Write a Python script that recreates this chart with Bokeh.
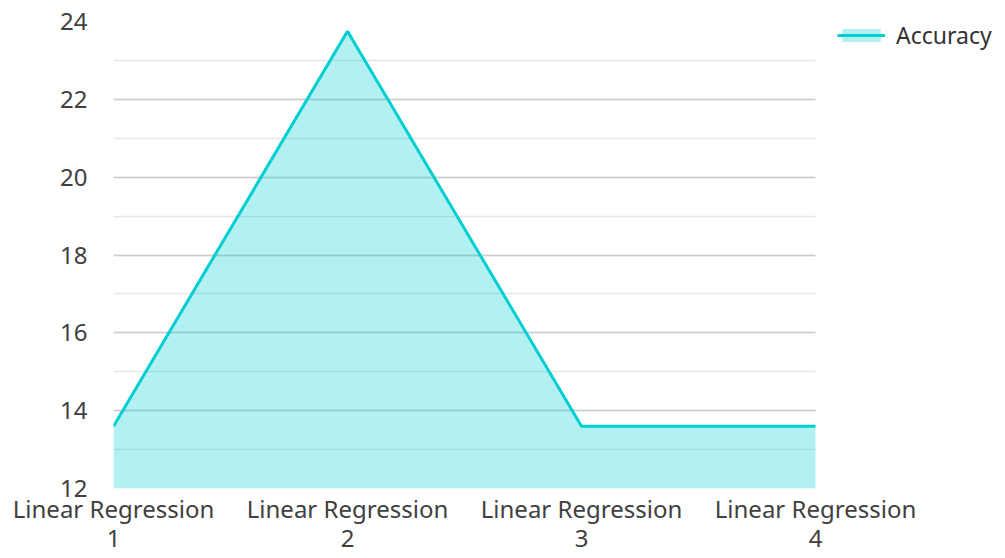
from bokeh.plotting import figure
from bokeh.models import Range1d, Legend, LegendItem, FixedTicker, ColumnDataSource, BoxAnnotation
from bokeh.embed import file_html
from bokeh.resources import INLINE

categories = ["Linear Regression\n1", "Linear Regression\n2", "Linear Regression\n3", "Linear Regression\n4"]
accuracy = [13.6, 23.75, 13.6, 13.6]
y_ticks = [12, 14, 16, 18, 20, 22, 24]

xs = list(range(1, len(categories) + 1))
src = ColumnDataSource(dict(x=xs, y=accuracy, base=[12] * len(xs)))

FONT = "Noto Sans"
# plot area runs from category 1 to category 4; extra room on the right holds the legend
x_end = len(xs) + 190 / 234
p = figure(width=1005, height=558, output_backend="svg", toolbar_location=None,
           x_range=Range1d(1, x_end), y_range=Range1d(12, 24),
           min_border_left=113, min_border_top=21, min_border_bottom=70, min_border_right=0)
p.outline_line_color = None

area = p.varea(x="x", y1="base", y2="y", source=src, fill_color="#00CED1", fill_alpha=0.3)
line = p.line(x="x", y="y", source=src, line_color="#00CED1", line_width=3)

p.xaxis.ticker = FixedTicker(ticks=xs)
p.xaxis.major_label_overrides = {x: c for x, c in zip(xs, categories)}
p.yaxis.ticker = FixedTicker(ticks=y_ticks, minor_ticks=list(range(12, 25)))

for ax in (p.xaxis, p.yaxis):
    ax.axis_line_color = None
    ax.major_tick_line_color = None
    ax.minor_tick_line_color = None
    ax.major_tick_out = 0
    ax.major_label_text_font = FONT
    ax.major_label_text_font_size = "24px"
    ax.major_label_text_color = "#404040"
p.yaxis.major_label_standoff = 22
p.xaxis.major_label_standoff = 3
p.xaxis.major_label_text_line_height = 0.9

p.xgrid.grid_line_color = None
p.ygrid.grid_line_color = "#cccccc"
p.ygrid.grid_line_width = 1.5
p.ygrid.minor_grid_line_color = "#e6e6e6"
p.ygrid.minor_grid_line_width = 1.5

# grid lines stop at the last category
p.add_layout(BoxAnnotation(left=xs[-1], fill_color="white", fill_alpha=1,
                           line_alpha=0, level="underlay"))

legend = Legend(items=[LegendItem(label="Accuracy", renderers=[area, line])],
                location=(724, 437), border_line_color=None, background_fill_alpha=0,
                label_text_font=FONT, label_text_font_size="23px", label_text_color="#333333",
                glyph_width=48, glyph_height=16, padding=0, margin=0, label_standoff=11)
p.add_layout(legend, "center")

open("out.html", "w").write(file_html(p, INLINE))
